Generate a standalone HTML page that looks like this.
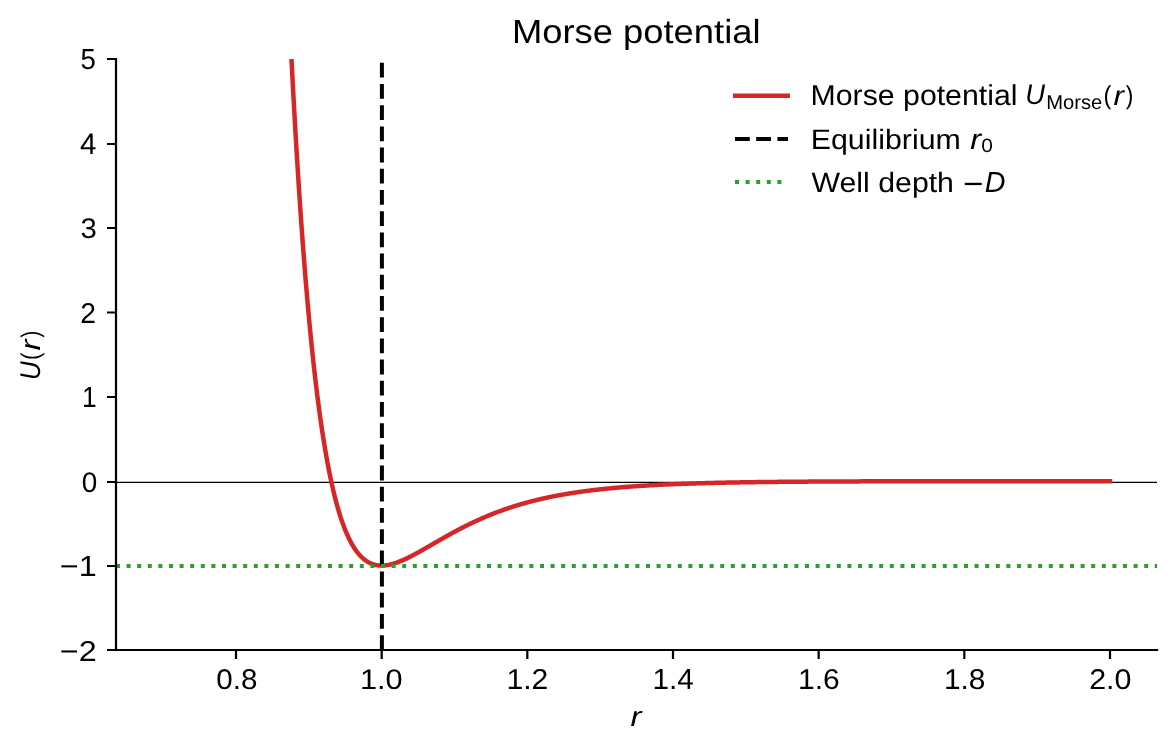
<!DOCTYPE html>
<html><head><meta charset="utf-8"><style>html,body{margin:0;padding:0;background:#fff;overflow:hidden}svg{display:block;will-change:transform}</style></head>
<body>
<svg width="1176" height="751" viewBox="0 0 1176 751" font-family="Liberation Sans, sans-serif" fill="#000" text-rendering="geometricPrecision">
<rect width="1176" height="751" fill="#fff"/>
<defs><clipPath id="ax"><rect x="116" y="59" width="1041" height="591"/></clipPath></defs>
<g clip-path="url(#ax)" fill="none">
<path d="M116,482.4H1157" stroke="#000" stroke-width="1.3"/>
<path d="M279.94,-200.00 L280.57,-197.76 L281.21,-180.31 L281.84,-163.20 L282.47,-146.44 L283.10,-130.02 L283.73,-113.93 L284.36,-98.16 L284.99,-82.71 L285.62,-67.57 L286.25,-52.74 L286.89,-38.21 L287.52,-23.98 L288.15,-10.04 L288.78,3.62 L289.41,16.99 L290.04,30.10 L290.67,42.93 L291.30,55.50 L291.94,67.81 L292.57,79.86 L293.20,91.67 L293.83,103.23 L294.46,114.55 L295.09,125.63 L295.72,136.48 L296.35,147.10 L296.99,157.50 L297.62,167.69 L298.25,177.65 L298.88,187.41 L299.51,196.96 L300.14,206.30 L300.77,215.45 L301.40,224.40 L302.04,233.16 L302.67,241.74 L303.30,250.12 L303.93,258.33 L304.56,266.36 L305.19,274.21 L305.82,281.90 L306.45,289.41 L307.09,296.77 L307.72,303.96 L308.35,310.99 L308.98,317.86 L309.61,324.59 L310.24,331.16 L310.87,337.59 L311.50,343.88 L312.13,350.02 L312.77,356.03 L313.40,361.90 L314.03,367.64 L314.66,373.24 L315.29,378.72 L315.92,384.07 L316.55,389.30 L317.18,394.41 L317.82,399.41 L318.45,404.28 L319.08,409.04 L319.71,413.69 L320.34,418.24 L320.97,422.67 L321.60,427.00 L322.23,431.22 L322.87,435.35 L323.50,439.37 L324.13,443.30 L324.76,447.13 L325.39,450.87 L326.02,454.52 L326.65,458.08 L327.28,461.55 L327.92,464.94 L328.55,468.24 L329.18,471.45 L329.81,474.59 L330.44,477.65 L331.07,480.63 L331.70,483.53 L332.33,486.36 L332.97,489.11 L333.60,491.79 L334.23,494.40 L334.86,496.95 L335.49,499.42 L336.12,501.83 L336.75,504.18 L337.38,506.46 L338.01,508.67 L338.65,510.83 L339.28,512.93 L339.91,514.97 L340.54,516.95 L341.17,518.87 L341.80,520.75 L342.43,522.56 L343.06,524.33 L343.70,526.04 L344.33,527.70 L344.96,529.31 L345.59,530.87 L346.22,532.39 L346.85,533.86 L347.48,535.28 L348.11,536.66 L348.75,538.00 L349.38,539.29 L350.01,540.54 L350.64,541.75 L351.27,542.92 L351.90,544.05 L352.53,545.15 L353.16,546.20 L353.80,547.22 L354.43,548.20 L355.06,549.15 L355.69,550.06 L356.32,550.94 L356.95,551.79 L357.58,552.60 L358.21,553.39 L358.84,554.14 L359.48,554.86 L360.11,555.55 L360.74,556.22 L361.37,556.85 L362.00,557.46 L362.63,558.04 L363.26,558.59 L363.89,559.12 L364.53,559.63 L365.16,560.11 L365.79,560.56 L366.42,560.99 L367.05,561.40 L367.68,561.79 L368.31,562.15 L368.94,562.49 L369.58,562.82 L370.21,563.12 L370.84,563.40 L371.47,563.66 L372.10,563.91 L372.73,564.13 L373.36,564.34 L373.99,564.53 L374.63,564.70 L375.26,564.86 L375.89,564.99 L376.52,565.12 L377.15,565.22 L377.78,565.32 L378.41,565.39 L379.04,565.46 L379.68,565.51 L380.31,565.54 L380.94,565.56 L381.57,565.57 L382.20,565.57 L382.83,565.55 L383.46,565.52 L384.09,565.48 L384.72,565.43 L385.36,565.36 L385.99,565.29 L386.62,565.21 L387.25,565.11 L387.88,565.01 L388.51,564.89 L389.14,564.77 L389.77,564.63 L390.41,564.49 L391.04,564.34 L391.67,564.18 L392.30,564.01 L392.93,563.84 L393.56,563.65 L394.19,563.46 L394.82,563.26 L395.46,563.06 L396.09,562.85 L396.72,562.63 L397.35,562.40 L397.98,562.17 L398.61,561.93 L399.24,561.69 L399.87,561.44 L400.51,561.18 L401.14,560.92 L401.77,560.66 L402.40,560.39 L403.03,560.11 L403.66,559.83 L404.29,559.55 L404.92,559.26 L405.56,558.97 L406.19,558.67 L406.82,558.37 L407.45,558.07 L408.08,557.76 L408.71,557.45 L409.34,557.13 L409.97,556.81 L410.60,556.49 L411.24,556.17 L411.87,555.84 L412.50,555.51 L413.13,555.18 L413.76,554.85 L414.39,554.51 L415.02,554.17 L415.65,553.83 L416.29,553.49 L416.92,553.14 L417.55,552.79 L418.18,552.44 L418.81,552.09 L419.44,551.74 L420.07,551.39 L420.70,551.03 L421.34,550.68 L421.97,550.32 L422.60,549.96 L423.23,549.60 L423.86,549.24 L424.49,548.88 L425.12,548.52 L425.75,548.16 L426.39,547.80 L427.02,547.43 L427.65,547.07 L428.28,546.70 L428.91,546.34 L429.54,545.97 L430.17,545.61 L430.80,545.24 L431.44,544.88 L432.07,544.51 L432.70,544.15 L433.33,543.78 L433.96,543.41 L434.59,543.05 L435.22,542.68 L435.85,542.32 L436.48,541.95 L437.12,541.59 L437.75,541.22 L438.38,540.86 L439.01,540.50 L439.64,540.13 L440.27,539.77 L440.90,539.41 L441.53,539.05 L442.17,538.69 L442.80,538.33 L443.43,537.97 L444.06,537.61 L444.69,537.26 L445.32,536.90 L445.95,536.55 L446.58,536.19 L447.22,535.84 L447.85,535.48 L448.48,535.13 L449.11,534.78 L449.74,534.43 L450.37,534.08 L451.00,533.74 L451.63,533.39 L452.27,533.05 L452.90,532.70 L453.53,532.36 L454.16,532.02 L454.79,531.68 L455.42,531.34 L456.05,531.00 L456.68,530.66 L457.32,530.33 L457.95,529.99 L458.58,529.66 L459.21,529.33 L459.84,529.00 L460.47,528.67 L461.10,528.34 L461.73,528.02 L462.36,527.69 L463.00,527.37 L463.63,527.05 L464.26,526.73 L464.89,526.41 L465.52,526.09 L466.15,525.78 L466.78,525.46 L467.41,525.15 L468.05,524.84 L468.68,524.53 L469.31,524.22 L469.94,523.92 L470.57,523.61 L471.20,523.31 L471.83,523.00 L472.46,522.70 L473.10,522.40 L473.73,522.11 L474.36,521.81 L474.99,521.52 L475.62,521.22 L476.25,520.93 L476.88,520.64 L477.51,520.36 L478.15,520.07 L478.78,519.78 L479.41,519.50 L480.04,519.22 L480.67,518.94 L481.30,518.66 L481.93,518.38 L482.56,518.11 L483.20,517.83 L483.83,517.56 L484.46,517.29 L485.09,517.02 L485.72,516.76 L486.35,516.49 L486.98,516.23 L487.61,515.96 L488.24,515.70 L488.88,515.44 L489.51,515.18 L490.14,514.93 L490.77,514.67 L491.40,514.42 L492.03,514.17 L492.66,513.92 L493.29,513.67 L493.93,513.42 L494.56,513.18 L495.19,512.93 L495.82,512.69 L496.45,512.45 L497.08,512.21 L497.71,511.97 L498.34,511.74 L498.98,511.50 L499.61,511.27 L500.24,511.04 L500.87,510.81 L501.50,510.58 L502.13,510.35 L502.76,510.13 L503.39,509.90 L504.03,509.68 L504.66,509.46 L505.29,509.24 L505.92,509.02 L506.55,508.80 L507.18,508.59 L507.81,508.37 L508.44,508.16 L509.08,507.95 L509.71,507.74 L510.34,507.53 L510.97,507.33 L511.60,507.12 L512.23,506.92 L512.86,506.71 L513.49,506.51 L514.12,506.31 L514.76,506.12 L515.39,505.92 L516.02,505.72 L516.65,505.53 L517.28,505.34 L517.91,505.15 L518.54,504.96 L519.17,504.77 L519.81,504.58 L520.44,504.39 L521.07,504.21 L521.70,504.03 L522.33,503.84 L522.96,503.66 L523.59,503.48 L524.22,503.30 L524.86,503.13 L525.49,502.95 L526.12,502.78 L526.75,502.60 L527.38,502.43 L528.01,502.26 L528.64,502.09 L529.27,501.93 L529.91,501.76 L530.54,501.59 L531.17,501.43 L531.80,501.27 L532.43,501.10 L533.06,500.94 L533.69,500.78 L534.32,500.62 L534.96,500.47 L535.59,500.31 L536.22,500.16 L536.85,500.00 L537.48,499.85 L538.11,499.70 L538.74,499.55 L539.37,499.40 L540.00,499.25 L540.64,499.10 L541.27,498.96 L541.90,498.81 L542.53,498.67 L543.16,498.53 L543.79,498.39 L544.42,498.25 L545.05,498.11 L545.69,497.97 L546.32,497.83 L546.95,497.69 L547.58,497.56 L548.21,497.43 L548.84,497.29 L549.47,497.16 L550.10,497.03 L550.74,496.90 L551.37,496.77 L552.00,496.64 L552.63,496.52 L553.26,496.39 L553.89,496.26 L554.52,496.14 L555.15,496.02 L555.79,495.89 L556.42,495.77 L557.05,495.65 L557.68,495.53 L558.31,495.41 L558.94,495.30 L559.57,495.18 L560.20,495.07 L560.84,494.95 L561.47,494.84 L562.10,494.72 L562.73,494.61 L563.36,494.50 L563.99,494.39 L564.62,494.28 L565.25,494.17 L565.88,494.06 L566.52,493.96 L567.15,493.85 L567.78,493.75 L568.41,493.64 L569.04,493.54 L569.67,493.43 L570.30,493.33 L570.93,493.23 L571.57,493.13 L572.20,493.03 L572.83,492.93 L573.46,492.83 L574.09,492.74 L574.72,492.64 L575.35,492.55 L575.98,492.45 L576.62,492.36 L577.25,492.26 L577.88,492.17 L578.51,492.08 L579.14,491.99 L579.77,491.90 L580.40,491.81 L581.03,491.72 L581.67,491.63 L582.30,491.54 L582.93,491.46 L583.56,491.37 L584.19,491.28 L584.82,491.20 L585.45,491.12 L586.08,491.03 L586.72,490.95 L587.35,490.87 L587.98,490.79 L588.61,490.71 L589.24,490.63 L589.87,490.55 L590.50,490.47 L591.13,490.39 L591.76,490.31 L592.40,490.23 L593.03,490.16 L593.66,490.08 L594.29,490.01 L594.92,489.93 L595.55,489.86 L596.18,489.79 L596.81,489.71 L597.45,489.64 L598.08,489.57 L598.71,489.50 L599.34,489.43 L599.97,489.36 L600.60,489.29 L601.23,489.22 L601.86,489.15 L602.50,489.09 L603.13,489.02 L603.76,488.95 L604.39,488.89 L605.02,488.82 L605.65,488.76 L606.28,488.69 L606.91,488.63 L607.55,488.57 L608.18,488.50 L608.81,488.44 L609.44,488.38 L610.07,488.32 L610.70,488.26 L611.33,488.20 L611.96,488.14 L612.60,488.08 L613.23,488.02 L613.86,487.96 L614.49,487.90 L615.12,487.85 L615.75,487.79 L616.38,487.73 L617.01,487.68 L617.64,487.62 L618.28,487.57 L618.91,487.51 L619.54,487.46 L620.17,487.41 L620.80,487.35 L621.43,487.30 L622.06,487.25 L622.69,487.20 L623.33,487.15 L623.96,487.10 L624.59,487.04 L625.22,486.99 L625.85,486.95 L626.48,486.90 L627.11,486.85 L627.74,486.80 L628.38,486.75 L629.01,486.70 L629.64,486.66 L630.27,486.61 L630.90,486.56 L631.53,486.52 L632.16,486.47 L632.79,486.43 L633.43,486.38 L634.06,486.34 L634.69,486.29 L635.32,486.25 L635.95,486.21 L636.58,486.16 L637.21,486.12 L637.84,486.08 L638.48,486.04 L639.11,485.99 L639.74,485.95 L640.37,485.91 L641.00,485.87 L641.63,485.83 L642.26,485.79 L642.89,485.75 L643.52,485.71 L644.16,485.67 L644.79,485.63 L645.42,485.60 L646.05,485.56 L646.68,485.52 L647.31,485.48 L647.94,485.45 L648.57,485.41 L649.21,485.37 L649.84,485.34 L650.47,485.30 L651.10,485.27 L651.73,485.23 L652.36,485.20 L652.99,485.16 L653.62,485.13 L654.26,485.09 L654.89,485.06 L655.52,485.03 L656.15,484.99 L656.78,484.96 L657.41,484.93 L658.04,484.90 L658.67,484.86 L659.31,484.83 L659.94,484.80 L660.57,484.77 L661.20,484.74 L661.83,484.71 L662.46,484.68 L663.09,484.65 L663.72,484.62 L664.36,484.59 L664.99,484.56 L665.62,484.53 L666.25,484.50 L666.88,484.47 L667.51,484.44 L668.14,484.41 L668.77,484.39 L669.40,484.36 L670.04,484.33 L670.67,484.30 L671.30,484.28 L671.93,484.25 L672.56,484.22 L673.19,484.20 L673.82,484.17 L674.45,484.14 L675.09,484.12 L675.72,484.09 L676.35,484.07 L676.98,484.04 L677.61,484.02 L678.24,483.99 L678.87,483.97 L679.50,483.94 L680.14,483.92 L680.77,483.90 L681.40,483.87 L682.03,483.85 L682.66,483.83 L683.29,483.80 L683.92,483.78 L684.55,483.76 L685.19,483.74 L685.82,483.71 L686.45,483.69 L687.08,483.67 L687.71,483.65 L688.34,483.63 L688.97,483.61 L689.60,483.58 L690.24,483.56 L690.87,483.54 L691.50,483.52 L692.13,483.50 L692.76,483.48 L693.39,483.46 L694.02,483.44 L694.65,483.42 L695.28,483.40 L695.92,483.38 L696.55,483.36 L697.18,483.34 L697.81,483.33 L698.44,483.31 L699.07,483.29 L699.70,483.27 L700.33,483.25 L700.97,483.23 L701.60,483.22 L702.23,483.20 L702.86,483.18 L703.49,483.16 L704.12,483.15 L704.75,483.13 L705.38,483.11 L706.02,483.09 L706.65,483.08 L707.28,483.06 L707.91,483.04 L708.54,483.03 L709.17,483.01 L709.80,483.00 L710.43,482.98 L711.07,482.96 L711.70,482.95 L712.33,482.93 L712.96,482.92 L713.59,482.90 L714.22,482.89 L714.85,482.87 L715.48,482.86 L716.12,482.84 L716.75,482.83 L717.38,482.81 L718.01,482.80 L718.64,482.78 L719.27,482.77 L719.90,482.76 L720.53,482.74 L721.16,482.73 L721.80,482.72 L722.43,482.70 L723.06,482.69 L723.69,482.67 L724.32,482.66 L724.95,482.65 L725.58,482.64 L726.21,482.62 L726.85,482.61 L727.48,482.60 L728.11,482.58 L728.74,482.57 L729.37,482.56 L730.00,482.55 L730.63,482.54 L731.26,482.52 L731.90,482.51 L732.53,482.50 L733.16,482.49 L733.79,482.48 L734.42,482.47 L735.05,482.45 L735.68,482.44 L736.31,482.43 L736.95,482.42 L737.58,482.41 L738.21,482.40 L738.84,482.39 L739.47,482.38 L740.10,482.37 L740.73,482.36 L741.36,482.35 L742.00,482.34 L742.63,482.32 L743.26,482.31 L743.89,482.30 L744.52,482.29 L745.15,482.28 L745.78,482.27 L746.41,482.26 L747.04,482.26 L747.68,482.25 L748.31,482.24 L748.94,482.23 L749.57,482.22 L750.20,482.21 L750.83,482.20 L751.46,482.19 L752.09,482.18 L752.73,482.17 L753.36,482.16 L753.99,482.15 L754.62,482.15 L755.25,482.14 L755.88,482.13 L756.51,482.12 L757.14,482.11 L757.78,482.10 L758.41,482.09 L759.04,482.09 L759.67,482.08 L760.30,482.07 L760.93,482.06 L761.56,482.05 L762.19,482.05 L762.83,482.04 L763.46,482.03 L764.09,482.02 L764.72,482.02 L765.35,482.01 L765.98,482.00 L766.61,481.99 L767.24,481.99 L767.88,481.98 L768.51,481.97 L769.14,481.96 L769.77,481.96 L770.40,481.95 L771.03,481.94 L771.66,481.94 L772.29,481.93 L772.92,481.92 L773.56,481.92 L774.19,481.91 L774.82,481.90 L775.45,481.90 L776.08,481.89 L776.71,481.88 L777.34,481.88 L777.97,481.87 L778.61,481.86 L779.24,481.86 L779.87,481.85 L780.50,481.85 L781.13,481.84 L781.76,481.83 L782.39,481.83 L783.02,481.82 L783.66,481.82 L784.29,481.81 L784.92,481.80 L785.55,481.80 L786.18,481.79 L786.81,481.79 L787.44,481.78 L788.07,481.78 L788.71,481.77 L789.34,481.76 L789.97,481.76 L790.60,481.75 L791.23,481.75 L791.86,481.74 L792.49,481.74 L793.12,481.73 L793.76,481.73 L794.39,481.72 L795.02,481.72 L795.65,481.71 L796.28,481.71 L796.91,481.70 L797.54,481.70 L798.17,481.69 L798.80,481.69 L799.44,481.68 L800.07,481.68 L800.70,481.67 L801.33,481.67 L801.96,481.67 L802.59,481.66 L803.22,481.66 L803.85,481.65 L804.49,481.65 L805.12,481.64 L805.75,481.64 L806.38,481.63 L807.01,481.63 L807.64,481.63 L808.27,481.62 L808.90,481.62 L809.54,481.61 L810.17,481.61 L810.80,481.61 L811.43,481.60 L812.06,481.60 L812.69,481.59 L813.32,481.59 L813.95,481.59 L814.59,481.58 L815.22,481.58 L815.85,481.57 L816.48,481.57 L817.11,481.57 L817.74,481.56 L818.37,481.56 L819.00,481.56 L819.64,481.55 L820.27,481.55 L820.90,481.55 L821.53,481.54 L822.16,481.54 L822.79,481.54 L823.42,481.53 L824.05,481.53 L824.68,481.52 L825.32,481.52 L825.95,481.52 L826.58,481.52 L827.21,481.51 L827.84,481.51 L828.47,481.51 L829.10,481.50 L829.73,481.50 L830.37,481.50 L831.00,481.49 L831.63,481.49 L832.26,481.49 L832.89,481.48 L833.52,481.48 L834.15,481.48 L834.78,481.48 L835.42,481.47 L836.05,481.47 L836.68,481.47 L837.31,481.46 L837.94,481.46 L838.57,481.46 L839.20,481.46 L839.83,481.45 L840.47,481.45 L841.10,481.45 L841.73,481.44 L842.36,481.44 L842.99,481.44 L843.62,481.44 L844.25,481.43 L844.88,481.43 L845.52,481.43 L846.15,481.43 L846.78,481.42 L847.41,481.42 L848.04,481.42 L848.67,481.42 L849.30,481.41 L849.93,481.41 L850.56,481.41 L851.20,481.41 L851.83,481.41 L852.46,481.40 L853.09,481.40 L853.72,481.40 L854.35,481.40 L854.98,481.39 L855.61,481.39 L856.25,481.39 L856.88,481.39 L857.51,481.39 L858.14,481.38 L858.77,481.38 L859.40,481.38 L860.03,481.38 L860.66,481.37 L861.30,481.37 L861.93,481.37 L862.56,481.37 L863.19,481.37 L863.82,481.37 L864.45,481.36 L865.08,481.36 L865.71,481.36 L866.35,481.36 L866.98,481.36 L867.61,481.35 L868.24,481.35 L868.87,481.35 L869.50,481.35 L870.13,481.35 L870.76,481.34 L871.40,481.34 L872.03,481.34 L872.66,481.34 L873.29,481.34 L873.92,481.34 L874.55,481.33 L875.18,481.33 L875.81,481.33 L876.44,481.33 L877.08,481.33 L877.71,481.33 L878.34,481.32 L878.97,481.32 L879.60,481.32 L880.23,481.32 L880.86,481.32 L881.49,481.32 L882.13,481.32 L882.76,481.31 L883.39,481.31 L884.02,481.31 L884.65,481.31 L885.28,481.31 L885.91,481.31 L886.54,481.30 L887.18,481.30 L887.81,481.30 L888.44,481.30 L889.07,481.30 L889.70,481.30 L890.33,481.30 L890.96,481.30 L891.59,481.29 L892.23,481.29 L892.86,481.29 L893.49,481.29 L894.12,481.29 L894.75,481.29 L895.38,481.29 L896.01,481.28 L896.64,481.28 L897.28,481.28 L897.91,481.28 L898.54,481.28 L899.17,481.28 L899.80,481.28 L900.43,481.28 L901.06,481.27 L901.69,481.27 L902.32,481.27 L902.96,481.27 L903.59,481.27 L904.22,481.27 L904.85,481.27 L905.48,481.27 L906.11,481.27 L906.74,481.26 L907.37,481.26 L908.01,481.26 L908.64,481.26 L909.27,481.26 L909.90,481.26 L910.53,481.26 L911.16,481.26 L911.79,481.26 L912.42,481.26 L913.06,481.25 L913.69,481.25 L914.32,481.25 L914.95,481.25 L915.58,481.25 L916.21,481.25 L916.84,481.25 L917.47,481.25 L918.11,481.25 L918.74,481.25 L919.37,481.24 L920.00,481.24 L920.63,481.24 L921.26,481.24 L921.89,481.24 L922.52,481.24 L923.16,481.24 L923.79,481.24 L924.42,481.24 L925.05,481.24 L925.68,481.24 L926.31,481.24 L926.94,481.23 L927.57,481.23 L928.20,481.23 L928.84,481.23 L929.47,481.23 L930.10,481.23 L930.73,481.23 L931.36,481.23 L931.99,481.23 L932.62,481.23 L933.25,481.23 L933.89,481.23 L934.52,481.23 L935.15,481.22 L935.78,481.22 L936.41,481.22 L937.04,481.22 L937.67,481.22 L938.30,481.22 L938.94,481.22 L939.57,481.22 L940.20,481.22 L940.83,481.22 L941.46,481.22 L942.09,481.22 L942.72,481.22 L943.35,481.22 L943.99,481.21 L944.62,481.21 L945.25,481.21 L945.88,481.21 L946.51,481.21 L947.14,481.21 L947.77,481.21 L948.40,481.21 L949.04,481.21 L949.67,481.21 L950.30,481.21 L950.93,481.21 L951.56,481.21 L952.19,481.21 L952.82,481.21 L953.45,481.21 L954.08,481.21 L954.72,481.20 L955.35,481.20 L955.98,481.20 L956.61,481.20 L957.24,481.20 L957.87,481.20 L958.50,481.20 L959.13,481.20 L959.77,481.20 L960.40,481.20 L961.03,481.20 L961.66,481.20 L962.29,481.20 L962.92,481.20 L963.55,481.20 L964.18,481.20 L964.82,481.20 L965.45,481.20 L966.08,481.20 L966.71,481.19 L967.34,481.19 L967.97,481.19 L968.60,481.19 L969.23,481.19 L969.87,481.19 L970.50,481.19 L971.13,481.19 L971.76,481.19 L972.39,481.19 L973.02,481.19 L973.65,481.19 L974.28,481.19 L974.92,481.19 L975.55,481.19 L976.18,481.19 L976.81,481.19 L977.44,481.19 L978.07,481.19 L978.70,481.19 L979.33,481.19 L979.96,481.19 L980.60,481.19 L981.23,481.18 L981.86,481.18 L982.49,481.18 L983.12,481.18 L983.75,481.18 L984.38,481.18 L985.01,481.18 L985.65,481.18 L986.28,481.18 L986.91,481.18 L987.54,481.18 L988.17,481.18 L988.80,481.18 L989.43,481.18 L990.06,481.18 L990.70,481.18 L991.33,481.18 L991.96,481.18 L992.59,481.18 L993.22,481.18 L993.85,481.18 L994.48,481.18 L995.11,481.18 L995.75,481.18 L996.38,481.18 L997.01,481.18 L997.64,481.18 L998.27,481.18 L998.90,481.18 L999.53,481.17 L1000.16,481.17 L1000.80,481.17 L1001.43,481.17 L1002.06,481.17 L1002.69,481.17 L1003.32,481.17 L1003.95,481.17 L1004.58,481.17 L1005.21,481.17 L1005.84,481.17 L1006.48,481.17 L1007.11,481.17 L1007.74,481.17 L1008.37,481.17 L1009.00,481.17 L1009.63,481.17 L1010.26,481.17 L1010.89,481.17 L1011.53,481.17 L1012.16,481.17 L1012.79,481.17 L1013.42,481.17 L1014.05,481.17 L1014.68,481.17 L1015.31,481.17 L1015.94,481.17 L1016.58,481.17 L1017.21,481.17 L1017.84,481.17 L1018.47,481.17 L1019.10,481.17 L1019.73,481.17 L1020.36,481.17 L1020.99,481.17 L1021.63,481.17 L1022.26,481.17 L1022.89,481.17 L1023.52,481.17 L1024.15,481.16 L1024.78,481.16 L1025.41,481.16 L1026.04,481.16 L1026.68,481.16 L1027.31,481.16 L1027.94,481.16 L1028.57,481.16 L1029.20,481.16 L1029.83,481.16 L1030.46,481.16 L1031.09,481.16 L1031.72,481.16 L1032.36,481.16 L1032.99,481.16 L1033.62,481.16 L1034.25,481.16 L1034.88,481.16 L1035.51,481.16 L1036.14,481.16 L1036.77,481.16 L1037.41,481.16 L1038.04,481.16 L1038.67,481.16 L1039.30,481.16 L1039.93,481.16 L1040.56,481.16 L1041.19,481.16 L1041.82,481.16 L1042.46,481.16 L1043.09,481.16 L1043.72,481.16 L1044.35,481.16 L1044.98,481.16 L1045.61,481.16 L1046.24,481.16 L1046.87,481.16 L1047.51,481.16 L1048.14,481.16 L1048.77,481.16 L1049.40,481.16 L1050.03,481.16 L1050.66,481.16 L1051.29,481.16 L1051.92,481.16 L1052.56,481.16 L1053.19,481.16 L1053.82,481.16 L1054.45,481.16 L1055.08,481.16 L1055.71,481.16 L1056.34,481.16 L1056.97,481.16 L1057.60,481.16 L1058.24,481.16 L1058.87,481.16 L1059.50,481.16 L1060.13,481.16 L1060.76,481.16 L1061.39,481.15 L1062.02,481.15 L1062.65,481.15 L1063.29,481.15 L1063.92,481.15 L1064.55,481.15 L1065.18,481.15 L1065.81,481.15 L1066.44,481.15 L1067.07,481.15 L1067.70,481.15 L1068.34,481.15 L1068.97,481.15 L1069.60,481.15 L1070.23,481.15 L1070.86,481.15 L1071.49,481.15 L1072.12,481.15 L1072.75,481.15 L1073.39,481.15 L1074.02,481.15 L1074.65,481.15 L1075.28,481.15 L1075.91,481.15 L1076.54,481.15 L1077.17,481.15 L1077.80,481.15 L1078.44,481.15 L1079.07,481.15 L1079.70,481.15 L1080.33,481.15 L1080.96,481.15 L1081.59,481.15 L1082.22,481.15 L1082.85,481.15 L1083.48,481.15 L1084.12,481.15 L1084.75,481.15 L1085.38,481.15 L1086.01,481.15 L1086.64,481.15 L1087.27,481.15 L1087.90,481.15 L1088.53,481.15 L1089.17,481.15 L1089.80,481.15 L1090.43,481.15 L1091.06,481.15 L1091.69,481.15 L1092.32,481.15 L1092.95,481.15 L1093.58,481.15 L1094.22,481.15 L1094.85,481.15 L1095.48,481.15 L1096.11,481.15 L1096.74,481.15 L1097.37,481.15 L1098.00,481.15 L1098.63,481.15 L1099.27,481.15 L1099.90,481.15 L1100.53,481.15 L1101.16,481.15 L1101.79,481.15 L1102.42,481.15 L1103.05,481.15 L1103.68,481.15 L1104.32,481.15 L1104.95,481.15 L1105.58,481.15 L1106.21,481.15 L1106.84,481.15 L1107.47,481.15 L1108.10,481.15 L1108.73,481.15 L1109.36,481.15 L1110.00,481.15" stroke="#d62728" stroke-width="4.5" stroke-linejoin="round" stroke-linecap="square"/>
<path d="M381.9,650V59" stroke="#000" stroke-width="4" stroke-dasharray="14.8 6.4"/>
<path d="M116,565.9H1157" stroke="#2ca02c" stroke-width="4" stroke-dasharray="4 6.6"/>
</g>
<g fill="none" stroke="#000" stroke-width="2.22">
<path d="M116,59V650" stroke-linecap="square"/>
<path d="M116,650H1157" stroke-linecap="square"/>
<path d="M107,59H116M107,144H116M107,228H116M107,312.5H116M107,397H116M107,482H116M107,566H116M107,650H116M236.00,650V659.1M381.67,650V659.1M527.33,650V659.1M673.00,650V659.1M818.67,650V659.1M964.33,650V659.1M1110.00,650V659.1"/>
</g>
<g fill="none">
<path d="M735.25,95.8H787.75" stroke="#d62728" stroke-width="4.5" stroke-linecap="square"/>
<path d="M735,138.9H788" stroke="#000" stroke-width="4" stroke-dasharray="14.8 6.4"/>
<path d="M735,181.9H788" stroke="#2ca02c" stroke-width="4" stroke-dasharray="4 6.6"/>
</g>
<rect x="964.7" y="182.8" width="17" height="2.3" fill="#000"/>
<text x="40" y="80" font-size="33.10" transform="matrix(1.09966 0.00000 0.00000 1.00813 467.889 -37.655)">Morse potential</text><text x="40" y="200" font-size="27.60" transform="matrix(1.00000 0.00000 0.00000 1.04935 40.550 -141.132)">5</text><text x="40" y="320" font-size="27.60" transform="matrix(1.06909 0.00000 0.00000 1.07895 37.335 -190.963)">4</text><text x="40" y="440" font-size="27.60" transform="matrix(1.06154 0.00000 0.00000 1.02564 37.977 -213.738)">3</text><text x="40" y="560" font-size="27.60" transform="matrix(1.02400 0.00000 0.00000 1.03896 39.304 -258.818)">2</text><text x="40" y="680" font-size="27.60" transform="matrix(0.95833 0.00000 0.00000 1.05263 43.550 -308.789)">1</text><text x="40" y="800" font-size="27.60" transform="matrix(1.01132 0.00000 0.00000 1.02564 41.236 -328.769)">0</text><text x="40" y="920" font-size="27.60" transform="matrix(1.17217 0.00000 0.00000 1.05263 12.948 -392.121)">−1</text><text x="40" y="1040" font-size="27.60" transform="matrix(1.17217 0.00000 0.00000 1.03896 12.948 -419.719)">−2</text><text x="40" y="1160" font-size="27.60" transform="matrix(1.07172 0.00000 0.00000 1.03333 173.409 -510.025)">0.8</text><text x="40" y="1280" font-size="27.60" transform="matrix(1.11206 0.00000 0.00000 1.03077 315.494 -630.742)">1.0</text><text x="40" y="1400" font-size="27.60" transform="matrix(1.09143 0.00000 0.00000 1.04416 462.760 -772.918)">1.2</text><text x="40" y="1520" font-size="27.60" transform="matrix(1.07606 0.00000 0.00000 1.05789 609.406 -919.100)">1.4</text><text x="40" y="1640" font-size="27.60" transform="matrix(1.08652 0.00000 0.00000 1.03590 754.566 -1010.131)">1.6</text><text x="40" y="1760" font-size="27.60" transform="matrix(1.08085 0.00000 0.00000 1.03590 900.704 -1134.438)">1.8</text><text x="40" y="1880" font-size="27.60" transform="matrix(1.10210 0.00000 0.00000 1.03333 1045.063 -1254.025)">2.0</text><text x="40" y="2000" font-size="27.60" transform="matrix(1.18947 0.00000 0.00000 1.01695 582.826 -1307.898)"><tspan font-style="italic">r</tspan></text><text x="40" y="2120" font-size="27.60" transform="matrix(0.00000 -0.93889 1.03377 0.00000 -2151.943 417.533)"><tspan font-style="italic">U</tspan></text><text x="40" y="2240" font-size="27.60" transform="matrix(0.00000 -0.81379 0.93204 0.00000 -2049.126 392.676)">(</text><text x="40" y="2360" font-size="27.60" transform="matrix(0.00000 -1.18947 1.01695 0.00000 -2360.000 397.974)"><tspan font-style="italic">r</tspan></text><text x="40" y="2480" font-size="27.60" transform="matrix(0.00000 -0.77241 0.92621 0.00000 -2258.485 368.690)">)</text><text x="40" y="2600" font-size="27.60" transform="matrix(1.09702 0.00000 0.00000 1.04078 766.651 -2601.104)">Morse potential</text><text x="40" y="2720" font-size="27.60" transform="matrix(0.98889 0.00000 0.00000 1.02857 985.667 -2693.371)"><tspan font-style="italic">U</tspan></text><text x="40" y="2840" font-size="19.32" transform="matrix(1.04585 0.00000 0.00000 1.03407 1004.297 -2828.129)">Morse</text><text x="40" y="2960" font-size="27.60" transform="matrix(0.85517 0.00000 0.00000 0.93592 1069.297 -2666.812)">(</text><text x="40" y="3080" font-size="27.60" transform="matrix(1.14737 0.00000 0.00000 0.98983 1067.632 -2944.078)"><tspan font-style="italic">r</tspan></text><text x="40" y="3200" font-size="27.60" transform="matrix(0.82759 0.00000 0.00000 0.93592 1092.590 -2891.433)">)</text><text x="40" y="3320" font-size="27.60" transform="matrix(1.09992 0.00000 0.00000 1.01748 766.688 -3229.070)">Equilibrium</text><text x="40" y="3440" font-size="27.60" transform="matrix(1.17895 0.00000 0.00000 1.03797 923.053 -3421.733)"><tspan font-style="italic">r</tspan></text><text x="40" y="3560" font-size="19.32" transform="matrix(1.08108 0.00000 0.00000 0.99636 937.946 -3394.604)">0</text><text x="40" y="3680" font-size="27.60" transform="matrix(1.09667 0.00000 0.00000 1.00971 767.659 -3523.734)">Well depth</text><text x="40" y="3800" font-size="27.60" transform="matrix(1.03889 0.00000 0.00000 1.05632 943.206 -3822.130)"><tspan font-style="italic">D</tspan></text>
</svg>
</body></html>
